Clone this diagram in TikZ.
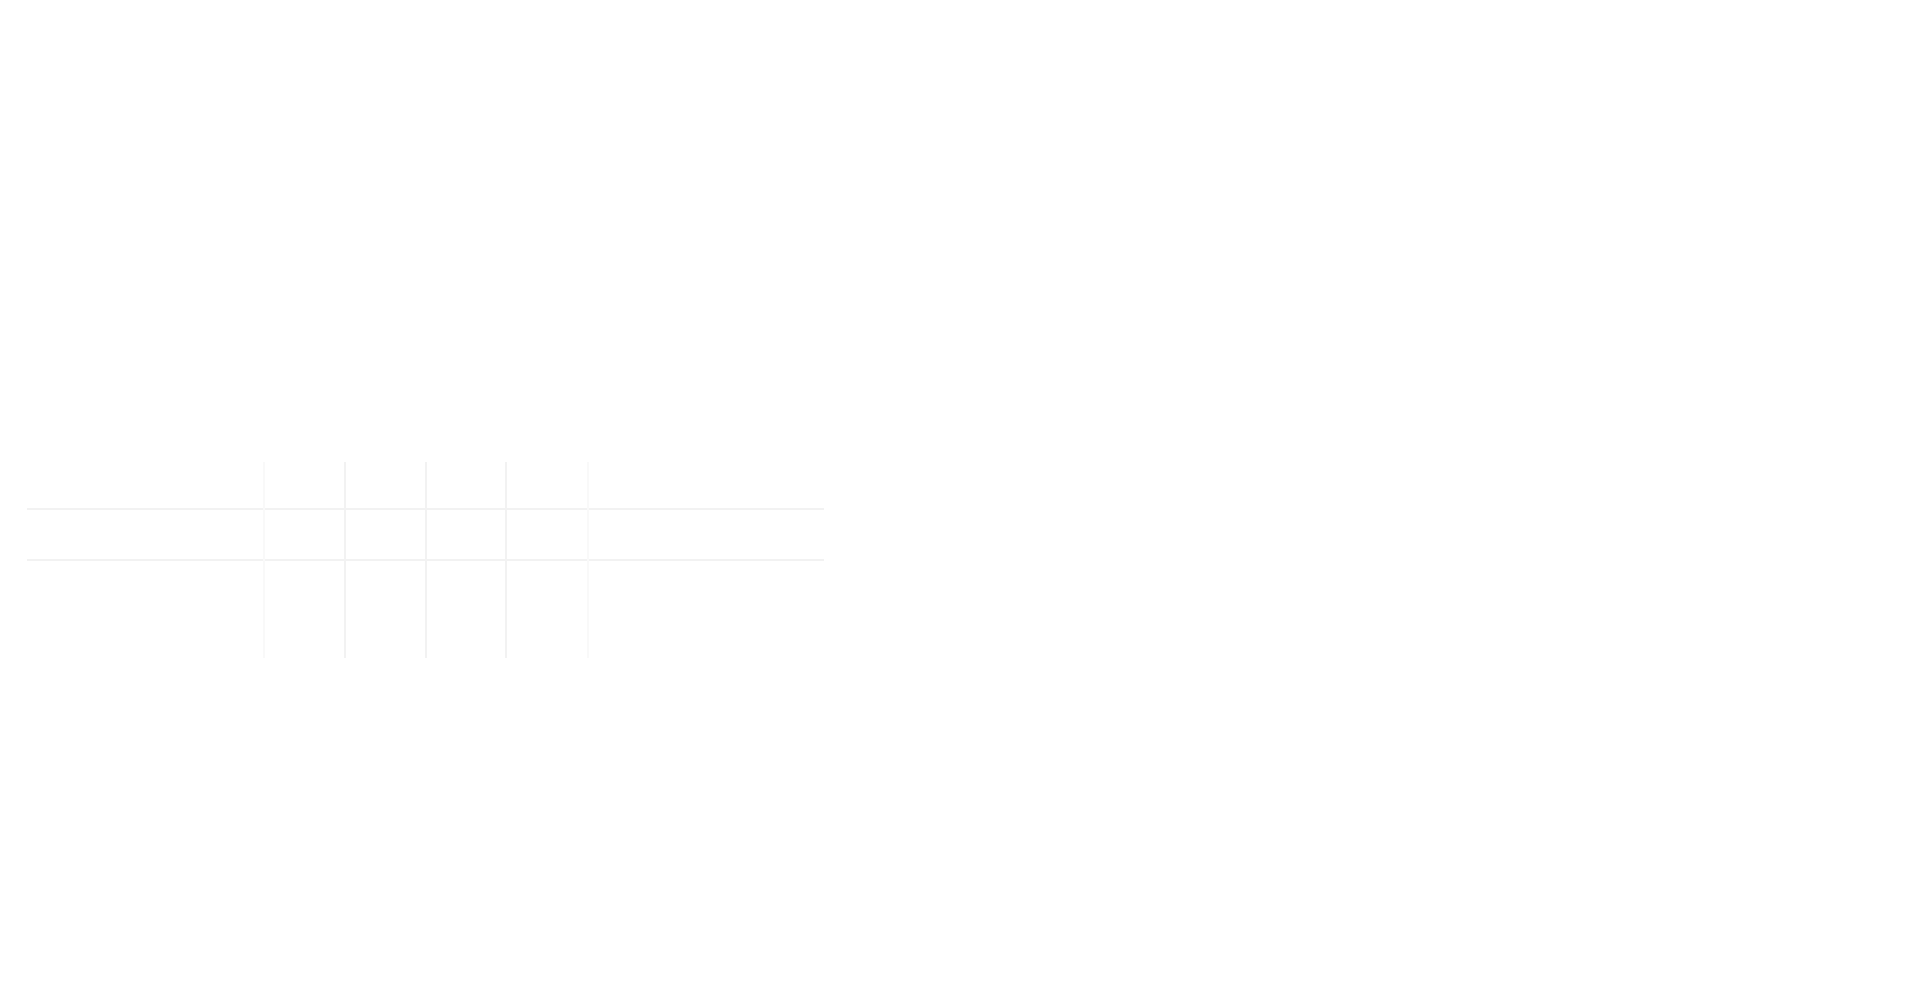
\documentclass[tikz,border=0pt]{standalone}
\begin{document}
\begin{tikzpicture}[x=1pt,y=-1pt,
  grid/.style={draw=black!5,line width=1.2pt},
  faint/.style={draw=black!2.5,line width=1.2pt}]
\useasboundingbox[fill=white] (0,0) rectangle (1920,1000);
\coordinate (h1a) at (27,509); \coordinate (h1b) at (824,509);
\coordinate (h2a) at (27,560); \coordinate (h2b) at (824,560);
\draw[grid] (h1a) -- (h1b);
\draw[grid] (h2a) -- (h2b);
\foreach \x in {345,426,506} \draw[grid] (\x,462) -- (\x,658);
\foreach \x in {264,588} \draw[faint] (\x,462) -- (\x,658);
\end{tikzpicture}
\end{document}
